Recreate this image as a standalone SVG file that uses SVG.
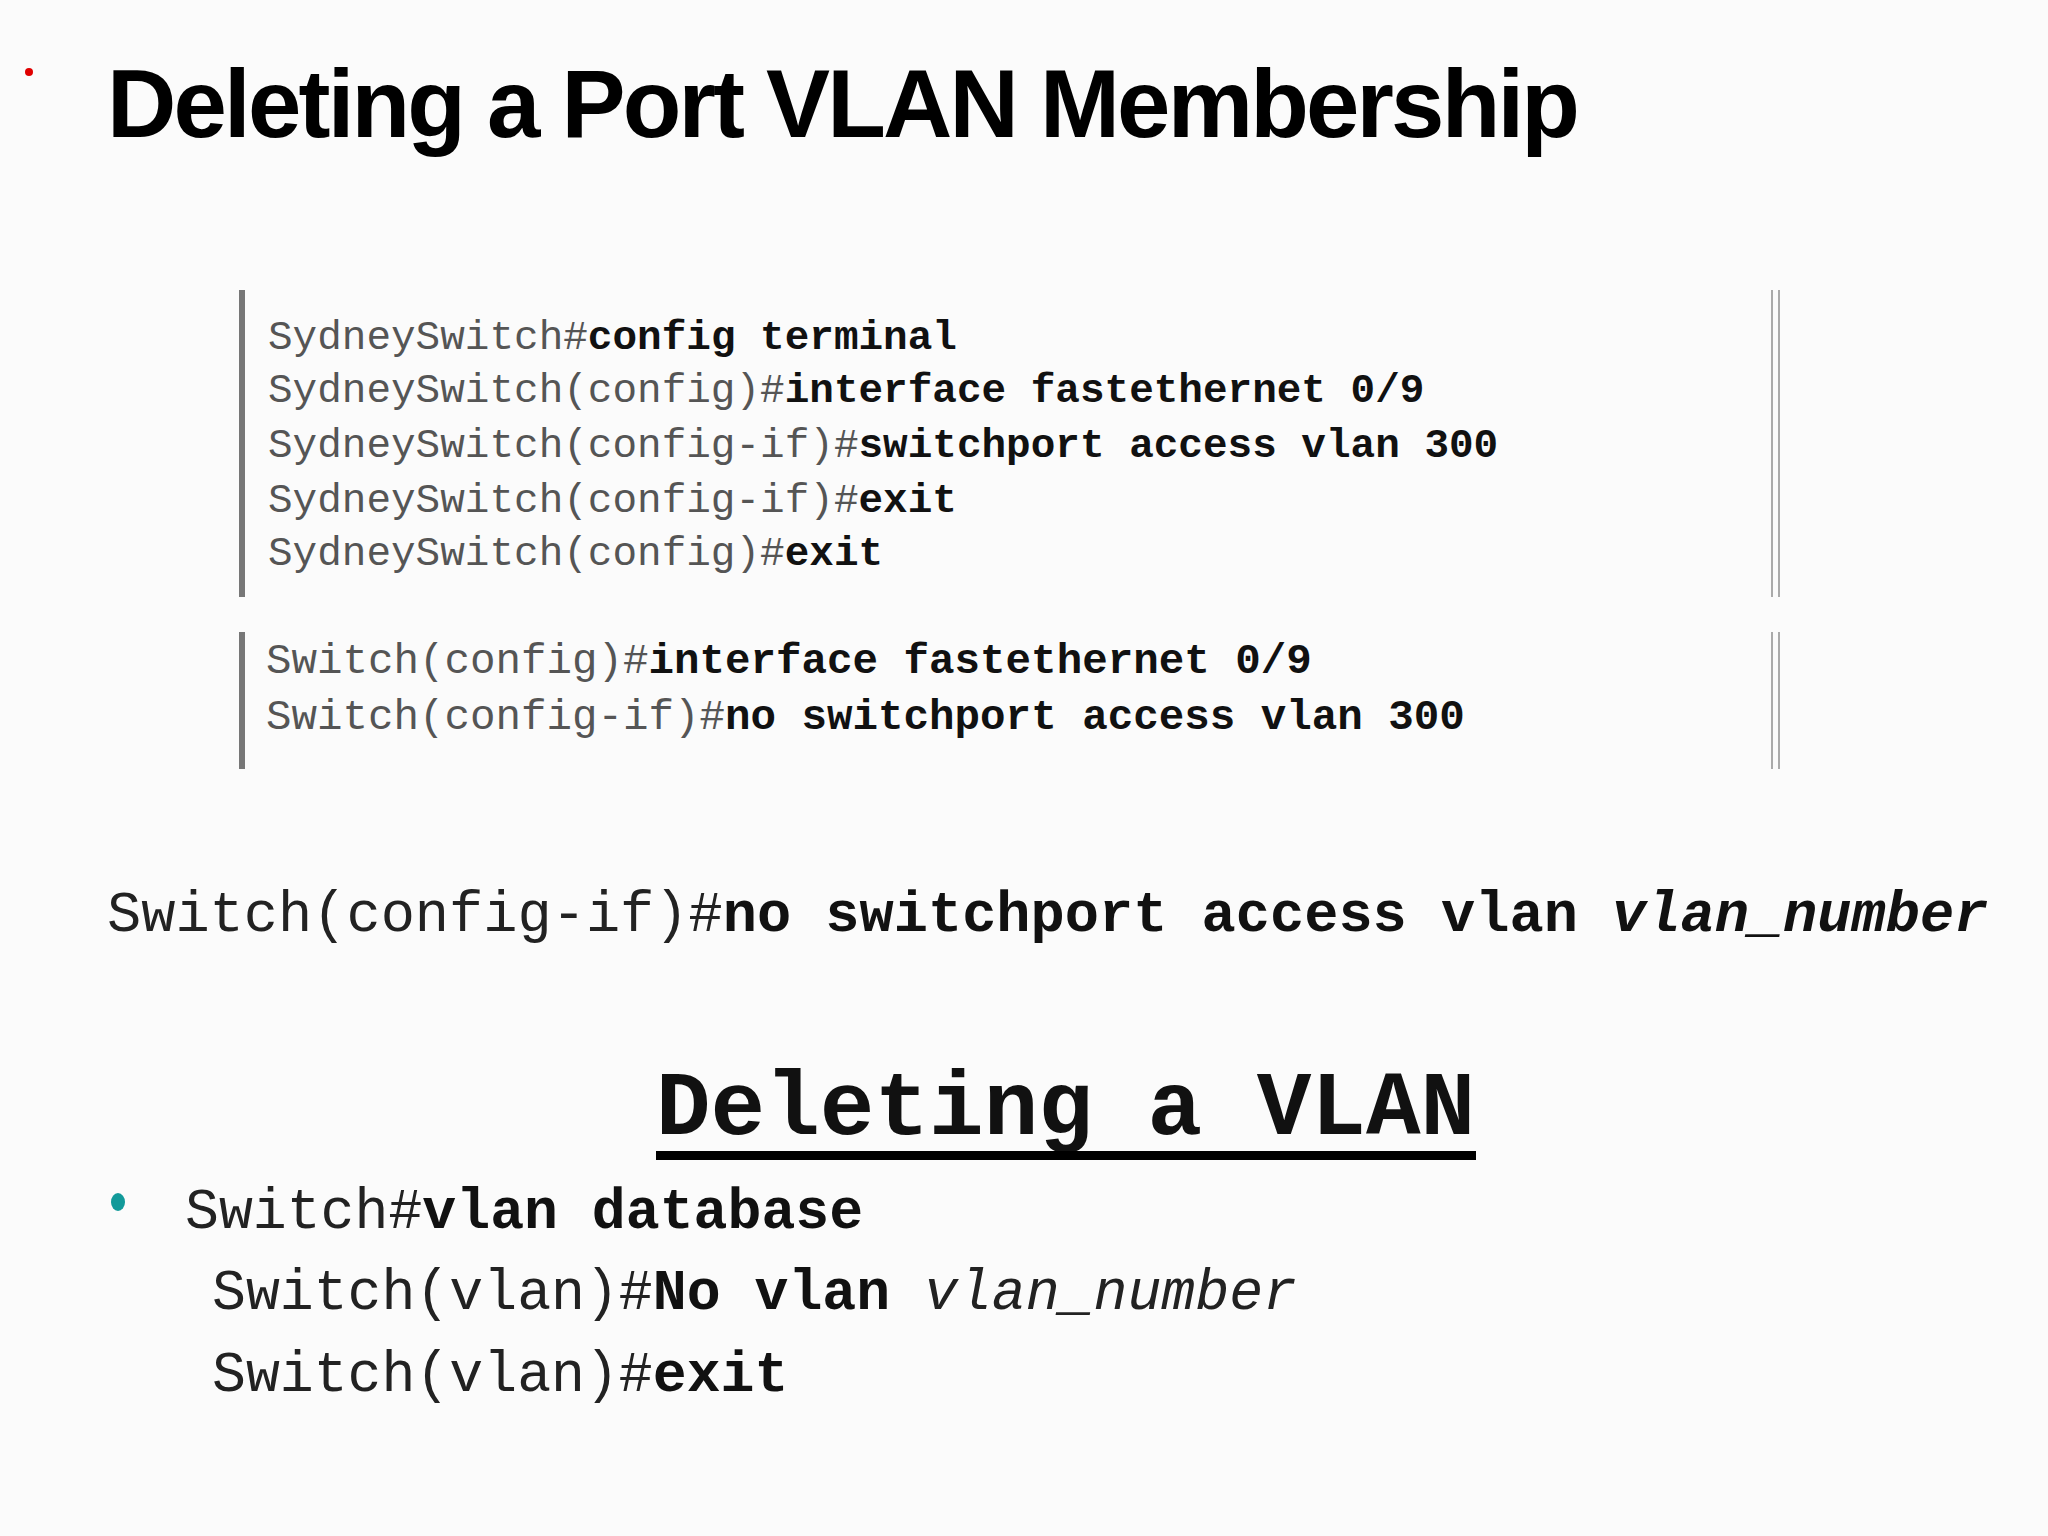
<svg xmlns="http://www.w3.org/2000/svg" width="2048" height="1536" viewBox="0 0 2048 1536">
<style>
.m{font-family:"Liberation Mono","DejaVu Sans Mono",monospace;fill:#222}
.p{fill:#555}
.b{font-weight:bold;fill:#111}
.bar{fill:#777}
.rb{stroke:#aaa;stroke-width:2}
</style>
<rect width="2048" height="1536" fill="#fbfbfb"/>
<circle cx="29" cy="72" r="4" fill="#e00000"/>
<text x="107" y="137" font-family="Liberation Sans,Arial,sans-serif" font-weight="bold" font-size="96" textLength="1473" fill="#000">Deleting a Port VLAN Membership</text>
<g id="box1">
<rect class="bar" x="239" y="290" width="6" height="307"/>
<line class="rb" x1="1772" y1="290" x2="1772" y2="597"/><line class="rb" x1="1779" y1="290" x2="1779" y2="597"/>
<text class="m" font-size="41" x="268" y="349"><tspan class="p">SydneySwitch#</tspan><tspan class="b">config terminal</tspan></text>
<text class="m" font-size="41" x="268" y="402"><tspan class="p">SydneySwitch(config)#</tspan><tspan class="b">interface fastethernet 0/9</tspan></text>
<text class="m" font-size="41" x="268" y="457"><tspan class="p">SydneySwitch(config-if)#</tspan><tspan class="b">switchport access vlan 300</tspan></text>
<text class="m" font-size="41" x="268" y="512"><tspan class="p">SydneySwitch(config-if)#</tspan><tspan class="b">exit</tspan></text>
<text class="m" font-size="41" x="268" y="565"><tspan class="p">SydneySwitch(config)#</tspan><tspan class="b">exit</tspan></text>
</g>
<g id="box2">
<rect class="bar" x="239" y="632" width="6" height="137"/>
<line class="rb" x1="1772" y1="632" x2="1772" y2="769"/><line class="rb" x1="1779" y1="632" x2="1779" y2="769"/>
<text class="m" font-size="42.5" x="266" y="673"><tspan class="p">Switch(config)#</tspan><tspan class="b">interface fastethernet 0/9</tspan></text>
<text class="m" font-size="42.5" x="266" y="729"><tspan class="p">Switch(config-if)#</tspan><tspan class="b">no switchport access vlan 300</tspan></text>
</g>
<g id="syntax">
<text class="m" font-size="57" x="107" y="931">Switch(config-if)#<tspan class="b">no switchport access vlan </tspan><tspan class="b" font-style="italic">vlan_number</tspan></text>
</g>
<g id="heading2">
<text class="m b" font-size="91" x="656" y="1134" fill="#000">Deleting a VLAN</text>
<rect x="656" y="1151" width="820" height="9" fill="#000"/>
</g>
<g id="list">
<ellipse cx="118" cy="1202" rx="7" ry="9" fill="#129a9a"/>
<text class="m" font-size="56.5" x="185" y="1228">Switch#<tspan class="b">vlan database</tspan></text>
<text class="m" font-size="56.5" x="212" y="1309">Switch(vlan)#<tspan class="b">No vlan</tspan> <tspan font-style="italic">vlan_number</tspan></text>
<text class="m" font-size="56.5" x="212" y="1391">Switch(vlan)#<tspan class="b">exit</tspan></text>
</g>
</svg>
